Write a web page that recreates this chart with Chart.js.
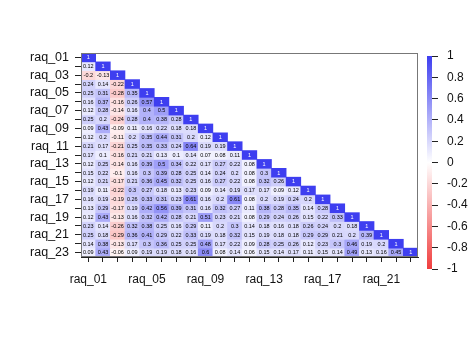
<!DOCTYPE html>
<html>
<head>
<meta charset="utf-8">
<script src="https://cdn.jsdelivr.net/npm/chart.js@4.4.0/dist/chart.umd.min.js"></script>
<style>
  body { margin: 0; background: #fff; }
  #wrap { position: relative; width: 474px; height: 338px; }
  canvas { position: absolute; left: 0; top: 0; }
</style>
</head>
<body>
<div id="wrap">
  <canvas id="corr" width="474" height="338"></canvas>
  <canvas id="legend" width="474" height="338"></canvas>
</div>
<script>
// item names
const vars = ['raq_01', 'raq_02', 'raq_03', 'raq_04', 'raq_05', 'raq_06', 'raq_07', 'raq_08',
  'raq_09', 'raq_10', 'raq_11', 'raq_12', 'raq_13', 'raq_14', 'raq_15', 'raq_16',
  'raq_17', 'raq_18', 'raq_19', 'raq_20', 'raq_21', 'raq_22', 'raq_23'];

// lower triangle of the correlation matrix, one row per item
const r01 = [1];
const r02 = [0.12, 1];
const r03 = [-0.2, -0.13, 1];
const r04 = [0.24, 0.14, -0.22, 1];
const r05 = [0.25, 0.31, -0.28, 0.35, 1];
const r06 = [0.16, 0.37, -0.16, 0.26, 0.57, 1];
const r07 = [0.12, 0.28, -0.14, 0.16, 0.4, 0.5, 1];
const r08 = [0.25, 0.2, -0.24, 0.28, 0.4, 0.38, 0.28, 1];
const r09 = [0.09, 0.43, -0.09, 0.11, 0.16, 0.22, 0.18, 0.18, 1];
const r10 = [0.12, 0.2, -0.11, 0.2, 0.35, 0.44, 0.31, 0.2, 0.12, 1];
const r11 = [0.21, 0.17, -0.21, 0.25, 0.35, 0.33, 0.24, 0.64, 0.19, 0.19, 1];
const r12 = [0.17, 0.1, -0.16, 0.21, 0.21, 0.13, 0.1, 0.14, 0.07, 0.08, 0.11, 1];
const r13 = [0.12, 0.25, -0.14, 0.16, 0.39, 0.5, 0.34, 0.22, 0.17, 0.27, 0.22, 0.08, 1];
const r14 = [0.15, 0.22, -0.1, 0.16, 0.3, 0.39, 0.28, 0.25, 0.14, 0.24, 0.2, 0.08, 0.3, 1];
const r15 = [0.12, 0.21, -0.17, 0.21, 0.36, 0.45, 0.32, 0.25, 0.16, 0.27, 0.22, 0.08, 0.32, 0.26, 1];
const r16 = [0.19, 0.11, -0.22, 0.3, 0.27, 0.18, 0.13, 0.23, 0.09, 0.14, 0.19, 0.17, 0.17, 0.09, 0.12, 1];
const r17 = [0.16, 0.19, -0.19, 0.26, 0.33, 0.31, 0.23, 0.61, 0.16, 0.2, 0.61, 0.08, 0.2, 0.19, 0.24, 0.2, 1];
const r18 = [0.13, 0.29, -0.17, 0.19, 0.42, 0.56, 0.39, 0.31, 0.16, 0.32, 0.27, 0.11, 0.38, 0.28, 0.35, 0.14, 0.28, 1];
const r19 = [0.12, 0.43, -0.13, 0.16, 0.32, 0.42, 0.28, 0.21, 0.51, 0.23, 0.21, 0.08, 0.29, 0.24, 0.26, 0.15, 0.22, 0.33, 1];
const r20 = [0.23, 0.14, -0.26, 0.32, 0.38, 0.25, 0.16, 0.29, 0.11, 0.2, 0.3, 0.14, 0.18, 0.16, 0.18, 0.26, 0.24, 0.2, 0.18, 1];
const r21 = [0.25, 0.18, -0.29, 0.36, 0.41, 0.29, 0.22, 0.33, 0.19, 0.18, 0.32, 0.15, 0.19, 0.18, 0.18, 0.29, 0.29, 0.21, 0.2, 0.39, 1];
const r22 = [0.14, 0.38, -0.13, 0.17, 0.3, 0.36, 0.25, 0.25, 0.48, 0.17, 0.22, 0.09, 0.28, 0.25, 0.26, 0.12, 0.23, 0.3, 0.46, 0.19, 0.2, 1];
const r23 = [0.09, 0.43, -0.06, 0.09, 0.19, 0.19, 0.18, 0.16, 0.6, 0.08, 0.14, 0.06, 0.15, 0.14, 0.17, 0.11, 0.15, 0.14, 0.49, 0.13, 0.16, 0.45, 1];

const rows = [r01, r02, r03, r04, r05, r06, r07, r08, r09, r10, r11, r12,
  r13, r14, r15, r16, r17, r18, r19, r20, r21, r22, r23];

// colour key ticks
const keyTicks = [1, 0.8, 0.6, 0.4, 0.2, 0, -0.2, -0.4, -0.6, -0.8, -1];

const FONT = '"Liberation Sans", Arial, sans-serif';
const POS = [62, 62, 240];
const NEG = [240, 62, 62];

function cellColor(v) {
  const end = v >= 0 ? POS : NEG;
  const t = Math.min(1, Math.abs(v));
  const c = end.map(e => Math.round(255 + (e - 255) * t));
  return `rgb(${c[0]}, ${c[1]}, ${c[2]})`;
}

// one floating bar per cell: row i spans [i+0.5, i+1.5] on a reversed y scale
const datasets = rows.map((vals, i) => ({
  data: vars.map((_, j) => j <= i ? [i + 0.5, i + 1.5] : null),
  backgroundColor: vars.map((_, j) => j <= i ? cellColor(vals[j]) : 'rgba(0,0,0,0)'),
  borderWidth: 0,
  borderSkipped: false,
  barPercentage: 1,
  categoryPercentage: 1,
  grouped: false
}));

const cellText = {
  id: 'cellText',
  afterDatasetsDraw(chart) {
    const ctx = chart.ctx;
    ctx.save();
    ctx.font = `5.5px ${FONT}`;
    ctx.textAlign = 'center';
    ctx.textBaseline = 'middle';
    rows.forEach((vals, i) => {
      const meta = chart.getDatasetMeta(i);
      vals.forEach((v, j) => {
        const p = meta.data[j].getCenterPoint();
        ctx.fillStyle = v === 1 ? '#fff' : '#000';
        ctx.fillText(String(v), p.x, p.y + 0.3);
      });
    });
    ctx.restore();
  }
};

const frame = {
  id: 'frame',
  afterDraw(chart) {
    const a = chart.chartArea;
    const ctx = chart.ctx;
    ctx.save();
    ctx.strokeStyle = '#777';
    ctx.lineWidth = 1;
    ctx.strokeRect(a.left + 0.5, a.top + 0.5, a.right - a.left - 1, a.bottom - a.top - 1);
    ctx.restore();
  }
};

new Chart(document.getElementById('corr'), {
  type: 'bar',
  data: { labels: vars, datasets: datasets },
  options: {
    responsive: false,
    animation: false,
    devicePixelRatio: 1,
    layout: { padding: { left: 0, right: 56, top: 53, bottom: 41 } },
    plugins: { legend: { display: false }, tooltip: { enabled: false } },
    scales: {
      x: {
        type: 'category',
        offset: true,
        afterFit: s => { s.height = 40; },
        grid: { offset: false, drawOnChartArea: false, drawTicks: true, tickLength: 5, color: '#222' },
        border: { display: true, color: '#222' },
        ticks: {
          autoSkip: false, maxRotation: 0, minRotation: 0, padding: 10,
          color: '#111', font: { family: FONT, size: 12 },
          callback: (v, i) => i % 4 === 0 ? vars[i] : ''
        }
      },
      y: {
        type: 'linear',
        min: 0.5,
        max: 23.5,
        reverse: true,
        afterBuildTicks: s => { s.ticks = vars.map((_, i) => ({ value: i + 1 })); },
        afterFit: s => { s.width = 81; },
        grid: { drawOnChartArea: false, drawTicks: true, tickLength: 6, color: '#222' },
        border: { display: true, color: '#222' },
        ticks: {
          autoSkip: false, padding: 6,
          color: '#111', font: { family: FONT, size: 12.5 },
          callback: (v, i) => i % 2 === 0 ? vars[i] : ''
        }
      }
    }
  },
  plugins: [cellText, frame]
});

// colour key on the right
new Chart(document.getElementById('legend'), {
  type: 'bar',
  data: {
    labels: ['r'],
    datasets: [{
      data: [[-1, 1]],
      borderWidth: 0,
      barPercentage: 1,
      categoryPercentage: 1,
      backgroundColor: c => {
        const a = c.chart.chartArea;
        if (!a) return null;
        const g = c.chart.ctx.createLinearGradient(0, a.top, 0, a.bottom);
        g.addColorStop(0, `rgb(${POS.join(',')})`);
        g.addColorStop(0.5, '#fff');
        g.addColorStop(1, `rgb(${NEG.join(',')})`);
        return g;
      }
    }]
  },
  options: {
    responsive: false,
    animation: false,
    devicePixelRatio: 1,
    layout: { padding: { left: 427, right: 0, top: 56, bottom: 69 } },
    plugins: { legend: { display: false }, tooltip: { enabled: false } },
    scales: {
      x: { display: false },
      y: {
        position: 'right',
        min: -1,
        max: 1,
        afterBuildTicks: s => { s.ticks = keyTicks.map(v => ({ value: v })); },
        afterFit: s => { s.width = 42; },
        grid: { drawOnChartArea: false, drawTicks: true, tickLength: 6, color: '#222' },
        border: { display: false },
        ticks: {
          autoSkip: false, padding: 9,
          color: '#111', font: { family: FONT, size: 12 },
          callback: v => String(v)
        }
      }
    }
  }
});
</script>
</body>
</html>
